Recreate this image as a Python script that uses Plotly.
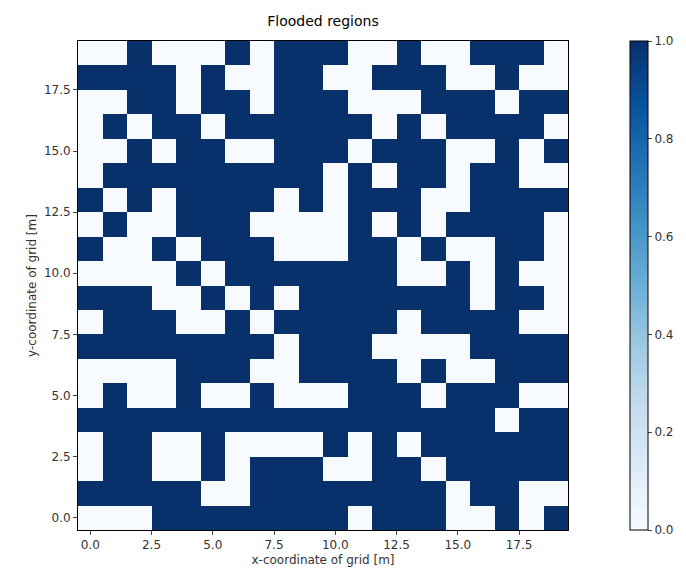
import plotly.graph_objects as go

# rows listed from y=0 (bottom) to y=19 (top)
row0 = [0,0,0,1,1,1,1,1,1,1,1,0,1,1,1,0,0,1,0,1]
row1 = [1,1,1,1,1,0,0,1,1,1,1,1,1,1,1,0,1,1,0,0]
row2 = [0,1,1,0,0,1,0,1,1,1,0,0,1,1,0,1,1,1,1,1]
row3 = [0,1,1,0,0,1,0,0,0,0,1,0,1,0,1,1,1,1,1,1]
row4 = [1,1,1,1,1,1,1,1,1,1,1,1,1,1,1,1,1,0,1,1]
row5 = [0,1,0,0,1,0,0,1,0,0,0,1,1,1,0,1,1,1,0,0]
row6 = [0,0,0,0,1,1,1,0,0,1,1,1,1,0,1,0,0,1,1,1]
row7 = [1,1,1,1,1,1,1,1,0,1,1,1,0,0,0,0,1,1,1,1]
row8 = [0,1,1,1,0,0,1,0,1,1,1,1,1,0,1,1,1,1,0,0]
row9 = [1,1,1,0,0,1,0,1,0,1,1,1,1,1,1,1,0,1,1,0]
row10 = [0,0,0,0,1,0,1,1,1,1,1,1,1,0,0,1,0,1,0,0]
row11 = [1,0,0,1,0,1,1,1,0,0,0,1,1,0,1,0,0,1,1,0]
row12 = [0,1,0,0,1,1,1,0,0,0,0,1,0,1,0,1,1,1,1,0]
row13 = [1,0,1,0,1,1,1,1,0,1,0,1,1,1,0,0,1,1,1,1]
row14 = [0,1,1,1,1,1,1,1,1,1,0,1,0,1,1,0,1,1,0,0]
row15 = [0,0,1,0,1,1,0,0,1,1,1,0,1,1,1,0,0,1,0,1]
row16 = [0,1,0,1,1,0,1,1,1,1,1,1,0,1,0,1,1,1,1,0]
row17 = [0,0,1,1,0,1,1,0,1,1,1,0,0,0,1,1,1,0,1,1]
row18 = [1,1,1,1,0,1,0,0,1,1,0,0,1,1,1,0,0,1,0,0]
row19 = [0,0,1,0,0,0,1,0,1,1,1,0,0,1,0,0,1,1,1,0]

grid = [row0,row1,row2,row3,row4,row5,row6,row7,row8,row9,
        row10,row11,row12,row13,row14,row15,row16,row17,row18,row19]
xs = list(range(20))
ys = list(range(20))
tick_vals = [0, 2.5, 5, 7.5, 10, 12.5, 15, 17.5]
tick_text = ["0.0", "2.5", "5.0", "7.5", "10.0", "12.5", "15.0", "17.5"]
cb_vals = [0, 0.2, 0.4, 0.6, 0.8, 1.0]

fig = go.Figure(go.Heatmap(
    z=grid, x=xs, y=ys, colorscale="Blues", zmin=0, zmax=1,
    colorbar=dict(thickness=18, len=1, lenmode="fraction", y=0.5, yanchor="middle",
                  ypad=0, xpad=0,
                  x=1.127, xanchor="left", tickvals=cb_vals,
                  ticktext=[f"{v:.1f}" for v in cb_vals], outlinecolor="black",
                  outlinewidth=1, ticks="outside", ticklen=4,
                  tickfont=dict(size=12, color="#333"))
))
axis_common = dict(range=[-0.5, 19.5], tickvals=tick_vals, ticktext=tick_text,
                   showgrid=False, zeroline=False, showline=True, mirror=True,
                   linecolor="black", linewidth=1, ticks="outside", ticklen=4,
                   automargin=False,
                   tickfont=dict(size=12, color="#333"))
fig.update_xaxes(title=dict(text="x-coordinate of grid [m]", font=dict(size=12, color="#333"), standoff=4), **axis_common)
fig.update_yaxes(title=dict(text="y-coordinate of grid [m]", font=dict(size=12, color="#333"), standoff=4), **axis_common)
fig.update_layout(
    width=686, height=576,
    margin=dict(l=70, r=126, t=33, b=54, autoexpand=False),
    title=dict(text="Flooded regions", x=(70+560)/2/686, xanchor="center",
               xref="container", yref="container", y=1 - 8/576, yanchor="top",
               automargin=False, font=dict(size=14, color="black")),
    plot_bgcolor="white", paper_bgcolor="white",
    font=dict(family="DejaVu Sans"),
)
fig.write_html("out.html")
